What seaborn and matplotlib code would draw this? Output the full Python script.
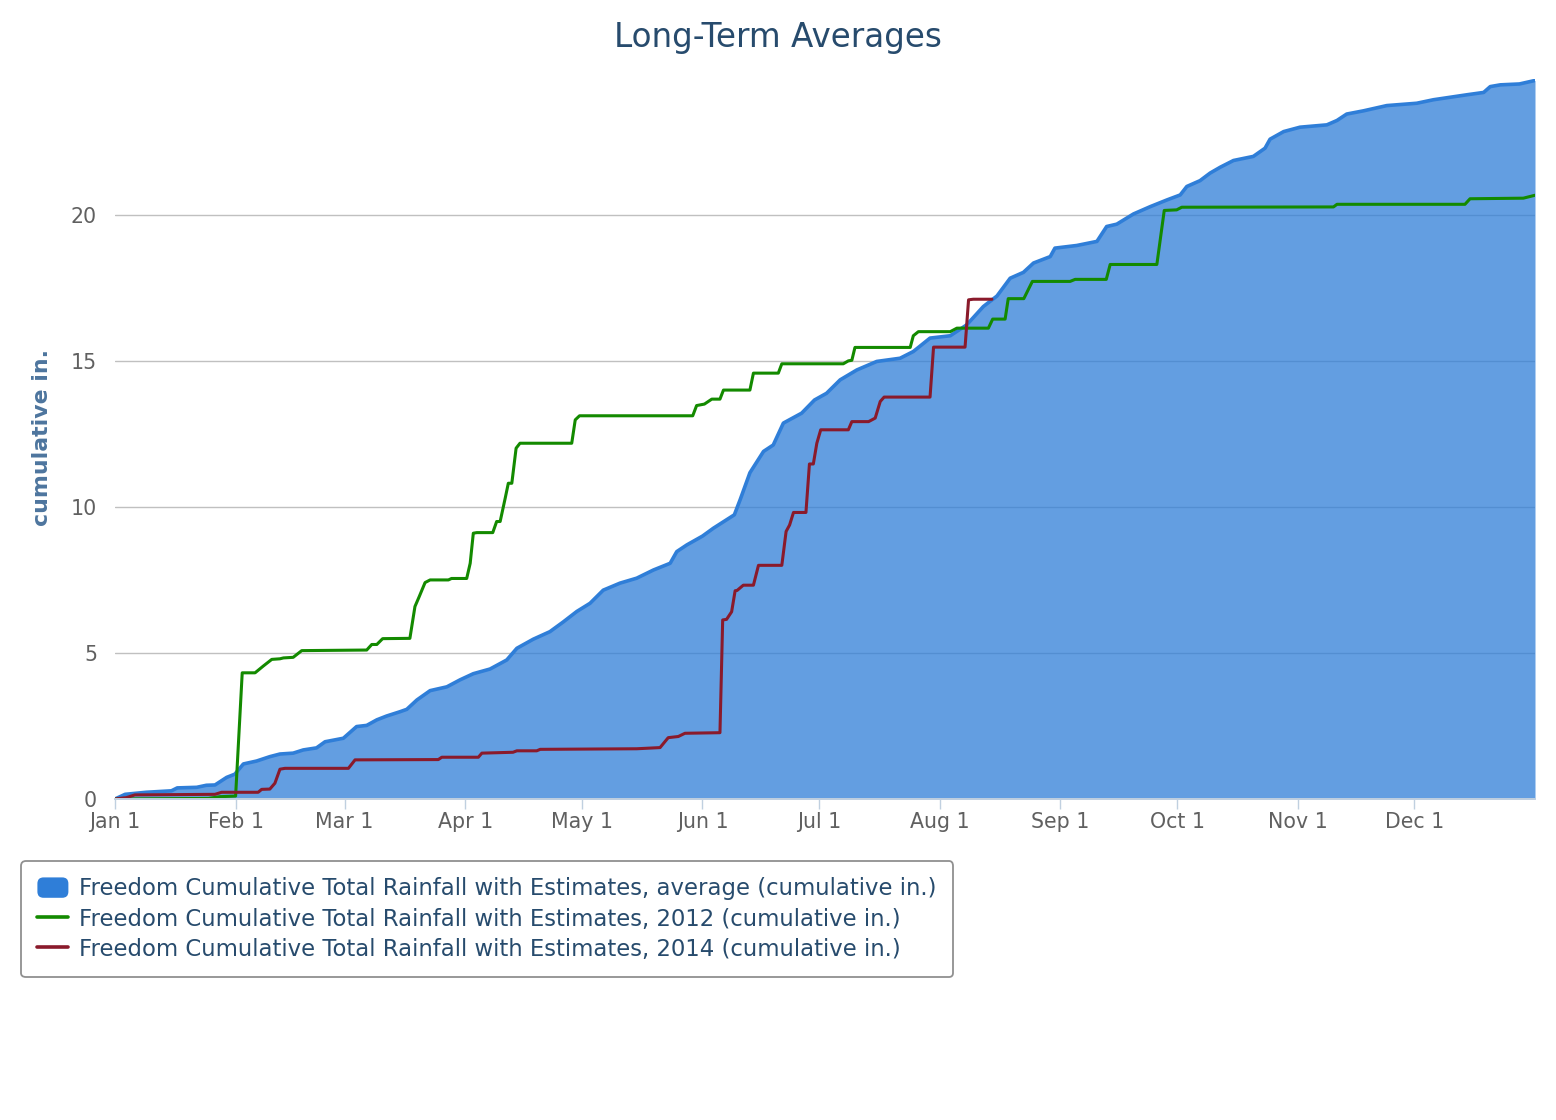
import matplotlib
matplotlib.use("Agg")
import matplotlib.pyplot as plt
from matplotlib.patches import Patch, FancyBboxPatch
from matplotlib.lines import Line2D
from matplotlib.legend_handler import HandlerPatch
import seaborn as sns
import pandas as pd

# ---------------- data (day of year, cumulative inches) ----------------
avg_days = [0, 2.6, 8, 14.5, 16, 21, 23.5, 25.7, 28.7, 30.8, 33, 36.4, 39.8, 42.4, 45.8,
            48.4, 51.8, 54, 58.7, 62.1, 64.7, 67.3, 69.8, 73.3, 75, 77.6, 81, 85.3, 88.7,
            92.1, 96.4, 100.7, 103.3, 107.5, 111.8, 115.2, 118.7, 122.1, 125.5, 129.8,
            134.1, 138.4, 142.7, 144.4, 147, 151, 153.8, 159.2, 160.7, 163.2, 166.7,
            169.2, 171.8, 176.5, 179.8, 182.9, 186.4, 190.7, 195.8, 201.8, 205.2, 209.5,
            214.7, 218.9, 223.2, 226.7, 230.1, 233.5, 236.1, 240.4, 241.6, 247.2, 252.4,
            254.9, 257.5, 261.8, 266.1, 270.4, 273.8, 275.5, 278.9, 281.5, 284.1, 287.5,
            292.6, 295.6, 296.9, 300.4, 304.6, 311.5, 314.1, 316.6, 320.9, 326.9, 334.6,
            338.9, 347.5, 351.8, 353.5, 356.1, 361, 365]
avg_vals = [0.0, 0.16, 0.23, 0.28, 0.38, 0.40, 0.47, 0.48, 0.74, 0.85, 1.20, 1.30, 1.45,
            1.54, 1.57, 1.68, 1.75, 1.96, 2.08, 2.48, 2.52, 2.71, 2.84, 2.99, 3.07, 3.39,
            3.71, 3.84, 4.08, 4.29, 4.45, 4.76, 5.16, 5.47, 5.73, 6.06, 6.42, 6.70, 7.15,
            7.39, 7.56, 7.84, 8.07, 8.47, 8.70, 9.00, 9.27, 9.73, 10.25, 11.17, 11.90,
            12.12, 12.87, 13.21, 13.66, 13.89, 14.35, 14.69, 14.98, 15.09, 15.32, 15.78,
            15.86, 16.23, 16.86, 17.22, 17.83, 18.03, 18.35, 18.57, 18.86, 18.95, 19.09,
            19.60, 19.68, 20.03, 20.28, 20.51, 20.68, 20.97, 21.17, 21.43, 21.63, 21.86,
            22.00, 22.28, 22.59, 22.85, 23.00, 23.08, 23.23, 23.45, 23.56, 23.74, 23.82,
            23.94, 24.11, 24.19, 24.39, 24.45, 24.48, 24.60]

y2012_days = [0, 24, 27, 31.0, 32.7, 36.0, 38.1, 40.3, 42.4, 43.3, 45.8, 48.0, 64.7, 66.0,
              67.3, 68.8, 75.8, 77.1, 78.2, 79.7, 81.0, 85.7, 86.5, 90.4, 91.3, 92.1, 93.0,
              97.1, 98.1, 99.0, 100.3, 101.1, 102.0, 103.1, 104.1, 117.4, 118.3, 119.4,
              148.5, 149.5, 151.5, 153.4, 155.5, 156.4, 163.2, 164.1, 170.5, 171.4, 187.2,
              188.5, 189.4, 190.2, 204.4, 205.2, 206.5, 214.7, 216.4, 224.5, 225.6, 228.8,
              229.6, 233.6, 235.8, 245.5, 246.8, 254.8, 255.8, 267.8, 269.7, 272.9, 274.2,
              313.2, 314.1, 347.0, 348.3, 362.0, 365.0]
y2012_vals = [0.0, 0.02, 0.08, 0.10, 4.32, 4.32, 4.55, 4.78, 4.80, 4.83, 4.85, 5.08, 5.10,
              5.29, 5.29, 5.49, 5.50, 6.59, 6.93, 7.41, 7.50, 7.50, 7.55, 7.55, 8.07, 9.10,
              9.12, 9.12, 9.50, 9.50, 10.30, 10.81, 10.81, 12.01, 12.18, 12.18, 12.98,
              13.12, 13.12, 13.47, 13.52, 13.69, 13.69, 14.00, 14.00, 14.58, 14.58, 14.90,
              14.90, 15.00, 15.02, 15.46, 15.46, 15.86, 16.00, 16.00, 16.12, 16.12, 16.43,
              16.43, 17.13, 17.13, 17.72, 17.72, 17.79, 17.79, 18.30, 18.30, 20.15, 20.17,
              20.26, 20.27, 20.36, 20.36, 20.55, 20.57, 20.67]

y2014_days = [0, 3, 5.1, 25.7, 27.4, 36.8, 37.7, 39.8, 41.1, 42.4, 43.7, 60.0, 61.7, 83.1,
              84.0, 93.4, 94.3, 102.3, 103.3, 108.4, 109.3, 134.1, 140.1, 142.2, 144.8,
              146.5, 155.5, 156.2, 157.2, 158.5, 159.4, 159.9, 161.5, 164.1, 165.4, 171.4,
              172.5, 173.4, 174.4, 177.6, 178.5, 179.5, 180.4, 181.4, 188.5, 189.4, 193.7,
              195.4, 196.7, 197.7, 209.5, 210.4, 218.5, 219.4, 220.6, 225.4]
y2014_vals = [0.0, 0.05, 0.14, 0.16, 0.23, 0.23, 0.33, 0.34, 0.54, 1.02, 1.05, 1.05, 1.34,
              1.35, 1.43, 1.43, 1.57, 1.60, 1.65, 1.65, 1.70, 1.72, 1.76, 2.10, 2.14, 2.25,
              2.27, 6.13, 6.15, 6.41, 7.13, 7.14, 7.32, 7.32, 8.00, 8.00, 9.16, 9.38, 9.81,
              9.81, 11.47, 11.47, 12.18, 12.64, 12.64, 12.92, 12.92, 13.04, 13.61, 13.76,
              13.76, 15.47, 15.47, 17.09, 17.11, 17.11]

month_ticks = [0, 31, 59, 90, 120, 151, 181, 212, 243, 273, 304, 334]
month_labels = ["Jan 1", "Feb 1", "Mar 1", "Apr 1", "May 1", "Jun 1", "Jul 1", "Aug 1",
                "Sep 1", "Oct 1", "Nov 1", "Dec 1"]
y_ticks = [0, 5, 10, 15, 20]

label_avg = "Freedom Cumulative Total Rainfall with Estimates, average (cumulative in.)"
label_2012 = "Freedom Cumulative Total Rainfall with Estimates, 2012 (cumulative in.)"
label_2014 = "Freedom Cumulative Total Rainfall with Estimates, 2014 (cumulative in.)"

# ---------------- styling ----------------
sns.set_style("white")
plt.rcParams["font.family"] = ["DejaVu Sans"]

C_AVG = "#2f7ed8"
C_2012 = "#138a00"
C_2014 = "#8a1a2b"

W, H = 1556, 1120
fig = plt.figure(figsize=(W / 100, H / 100), dpi=100)
left, right, top, bottom = 115, 1535, 79, 799
ax = fig.add_axes([left / W, 1 - bottom / H, (right - left) / W, (bottom - top) / H])

df_avg = pd.DataFrame({"day": avg_days, "val": avg_vals})
df_12 = pd.DataFrame({"day": y2012_days, "val": y2012_vals})
df_14 = pd.DataFrame({"day": y2014_days, "val": y2014_vals})

ax.fill_between(df_avg["day"], 0, df_avg["val"], color=C_AVG, alpha=0.75, linewidth=0, zorder=2)
sns.lineplot(data=df_avg, x="day", y="val", ax=ax, color=C_AVG, linewidth=2.6,
             estimator=None, sort=False, zorder=3, solid_joinstyle="round", solid_capstyle="round")
sns.lineplot(data=df_12, x="day", y="val", ax=ax, color=C_2012, linewidth=2.2,
             estimator=None, sort=False, zorder=4, solid_joinstyle="round")
sns.lineplot(data=df_14, x="day", y="val", ax=ax, color=C_2014, linewidth=2.2,
             estimator=None, sort=False, zorder=5, solid_joinstyle="round")

ax.set_xlim(0, 365)
ax.set_ylim(0, 24.65)

ax.set_yticks(y_ticks)
ax.set_yticklabels([str(v) for v in y_ticks])
ax.set_xticks(month_ticks)
ax.set_xticklabels(month_labels)

ax.grid(axis="y", color="#c0c0c0", linewidth=1.0, zorder=1)
ax.grid(axis="x", visible=False)
ax.set_axisbelow(True)

for s in ["top", "right", "left"]:
    ax.spines[s].set_visible(False)
ax.spines["bottom"].set_color("#c0d0e0")
ax.spines["bottom"].set_linewidth(1.4)
ax.spines["bottom"].set_zorder(6)

ax.tick_params(axis="x", direction="out", length=7, width=1.0, color="#c0d0e0",
               labelsize=14.8, labelcolor="#606060", pad=2, bottom=True)
ax.tick_params(axis="y", length=0, labelsize=14.8, labelcolor="#606060", pad=13)

ax.set_xlabel("")
ax.set_ylabel("cumulative in.", fontsize=15.8, color="#4d759e", fontweight="bold", va="center")
ax.yaxis.set_label_coords((42 - left) / (right - left), (bottom - 437) / (bottom - top))

fig.suptitle("Long-Term Averages", x=0.4997, y=1 - 38 / H, va="center",
             fontsize=23.5, color="#274b6d")


class RoundedPatchHandler(HandlerPatch):
    def create_artists(self, legend, orig_handle, xdescent, ydescent, width, height,
                       fontsize, trans):
        p = FancyBboxPatch((-xdescent, -ydescent), width, height,
                           boxstyle=f"round,pad=0,rounding_size={height * 0.3}",
                           facecolor=orig_handle.get_facecolor(), edgecolor="none",
                           transform=trans)
        return [p]


avg_handle = Patch(facecolor=C_AVG, edgecolor="none")
handles = [avg_handle,
           Line2D([], [], color=C_2012, linewidth=2.6),
           Line2D([], [], color=C_2014, linewidth=2.6)]
leg = fig.legend(handles, [label_avg, label_2012, label_2014],
                 loc="upper left", bbox_to_anchor=(21 / W, 1 - 861 / H),
                 bbox_transform=fig.transFigure, borderaxespad=0,
                 fontsize=16.4, frameon=True, fancybox=True, framealpha=1,
                 edgecolor="#909090", handlelength=1.36, handleheight=1.0,
                 handletextpad=0.48, borderpad=0.72, labelspacing=0.32,
                 handler_map={Patch: RoundedPatchHandler()})
leg.get_frame().set_linewidth(1.3)
for t in leg.get_texts():
    t.set_color("#274b6d")

fig.savefig("out.png", dpi=100)
